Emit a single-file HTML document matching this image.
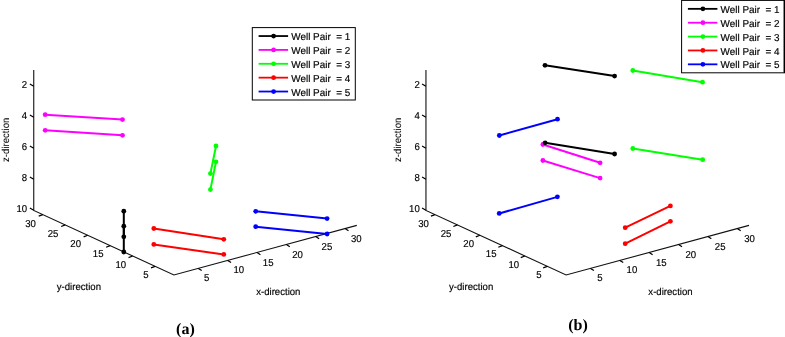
<!DOCTYPE html>
<html><head><meta charset="utf-8"><title>Well pairs</title>
<style>
html,body{margin:0;padding:0;background:#fff;}
svg{display:block;}
text{font-family:"Liberation Sans",sans-serif;font-size:10px;text-rendering:geometricPrecision;fill:#000;stroke:#000;stroke-width:0.16px;}
.rt{stroke-width:0.05px;}
.ax{fill:none;stroke:#111;stroke-width:1.1;}
.tk{fill:none;stroke:#000;stroke-width:1.2;}
.ln{fill:none;stroke-width:2;}
.cap{font-family:"Liberation Serif",serif;font-weight:bold;font-size:16px;fill:#000;stroke:none;}
</style></head><body>
<svg width="785" height="337" viewBox="0 0 785 337">
<rect width="785" height="337" fill="#fff"/>
<path class="ax" d="M33.75 70V210.4L173.9 275L356.8 225.4"/>
<path class="tk" d="M33.75 86.3l-3.9 -2.2M33.75 117.28l-3.9 -2.2M33.75 148.26l-3.9 -2.2M33.75 179.24l-3.9 -2.2M33.75 210.22l-3.9 -2.2M42.8 214.57l-4.1 1.6M65.26 224.92l-4.1 1.6M87.72 235.28l-4.1 1.6M110.18 245.63l-4.1 1.6M132.64 255.98l-4.1 1.6M155.1 266.33l-4.1 1.6M198.3 268.38l3.4 2.2M227.66 260.42l3.4 2.2M257.02 252.46l3.4 2.2M286.38 244.5l3.4 2.2M315.74 236.53l3.4 2.2M345.1 228.57l3.4 2.2"/>
<text transform="translate(27.15 87.65) scale(0.96 1)" text-anchor="end" xml:space="preserve">2</text>
<text transform="translate(27.15 118.63) scale(0.96 1)" text-anchor="end" xml:space="preserve">4</text>
<text transform="translate(27.15 149.61) scale(0.96 1)" text-anchor="end" xml:space="preserve">6</text>
<text transform="translate(27.15 180.59) scale(0.96 1)" text-anchor="end" xml:space="preserve">8</text>
<text transform="translate(27.15 211.57) scale(0.96 1)" text-anchor="end" xml:space="preserve">10</text>
<text transform="translate(35.9 226.65) scale(0.96 1)" text-anchor="end" xml:space="preserve">30</text>
<text transform="translate(58.44 236.87) scale(0.96 1)" text-anchor="end" xml:space="preserve">25</text>
<text transform="translate(80.98 247.09) scale(0.96 1)" text-anchor="end" xml:space="preserve">20</text>
<text transform="translate(103.52 257.31) scale(0.96 1)" text-anchor="end" xml:space="preserve">15</text>
<text transform="translate(126.06 267.53) scale(0.96 1)" text-anchor="end" xml:space="preserve">10</text>
<text transform="translate(148.6 277.75) scale(0.96 1)" text-anchor="end" xml:space="preserve">5</text>
<text transform="translate(204 281) scale(0.96 1)" xml:space="preserve">5</text>
<text transform="translate(233.4 273.25) scale(0.96 1)" xml:space="preserve">10</text>
<text transform="translate(262.8 265.5) scale(0.96 1)" xml:space="preserve">15</text>
<text transform="translate(292.2 257.75) scale(0.96 1)" xml:space="preserve">20</text>
<text transform="translate(321.6 249.5) scale(0.96 1)" xml:space="preserve">25</text>
<text transform="translate(351 242.25) scale(0.96 1)" xml:space="preserve">30</text>
<text transform="translate(78.9 290.3) scale(0.96 1)" text-anchor="middle" xml:space="preserve">y-direction</text>
<text transform="translate(278.3 294.6) scale(0.96 1)" text-anchor="middle" xml:space="preserve">x-direction</text>
<text transform="translate(8.6 139.8) rotate(-90) scale(0.96 1)" text-anchor="middle" class="rt" xml:space="preserve">z-direction</text>
<path d="M45.2 114.7L122.5 119.6" stroke="#f0f" class="ln"/><circle cx="45.2" cy="114.7" r="2.4" fill="#f0f"/><circle cx="122.5" cy="119.6" r="2.4" fill="#f0f"/>
<path d="M45.2 130.3L122.5 135.3" stroke="#f0f" class="ln"/><circle cx="45.2" cy="130.3" r="2.4" fill="#f0f"/><circle cx="122.5" cy="135.3" r="2.4" fill="#f0f"/>
<path d="M216 146L210.4 173.6" stroke="#0f0" class="ln"/><circle cx="216" cy="146" r="2.4" fill="#0f0"/><circle cx="210.4" cy="173.6" r="2.4" fill="#0f0"/>
<path d="M216 161.8L210.4 189.6" stroke="#0f0" class="ln"/><circle cx="216" cy="161.8" r="2.4" fill="#0f0"/><circle cx="210.4" cy="189.6" r="2.4" fill="#0f0"/>
<path d="M123.8 211.2L123.8 236.8" stroke="#000" class="ln"/><circle cx="123.8" cy="211.2" r="2.4" fill="#000"/><circle cx="123.8" cy="236.8" r="2.4" fill="#000"/>
<path d="M123.8 226.2L123.8 252" stroke="#000" class="ln"/><circle cx="123.8" cy="226.2" r="2.4" fill="#000"/><circle cx="123.8" cy="252" r="2.4" fill="#000"/>
<path d="M153.8 228.5L223.8 239.3" stroke="#f00" class="ln"/><circle cx="153.8" cy="228.5" r="2.4" fill="#f00"/><circle cx="223.8" cy="239.3" r="2.4" fill="#f00"/>
<path d="M153.8 244.4L223.8 254.4" stroke="#f00" class="ln"/><circle cx="153.8" cy="244.4" r="2.4" fill="#f00"/><circle cx="223.8" cy="254.4" r="2.4" fill="#f00"/>
<path d="M255.7 211.3L327.1 218.6" stroke="#00f" class="ln"/><circle cx="255.7" cy="211.3" r="2.4" fill="#00f"/><circle cx="327.1" cy="218.6" r="2.4" fill="#00f"/>
<path d="M255.7 226.7L327.1 234" stroke="#00f" class="ln"/><circle cx="255.7" cy="226.7" r="2.4" fill="#00f"/><circle cx="327.1" cy="234" r="2.4" fill="#00f"/>
<rect x="252.3" y="27.6" width="103" height="72.4" fill="#fff" stroke="#000" stroke-width="1"/>
<path d="M258.6 36.05h29.5" stroke="#000" class="ln" style="stroke-width:1.8"/><circle cx="273.6" cy="36.05" r="2.4" fill="#000"/>
<text transform="translate(291.3 40.15) scale(0.99 1)" xml:space="preserve">Well Pair  = 1</text>
<path d="M258.6 49.92h29.5" stroke="#f0f" class="ln" style="stroke-width:1.8"/><circle cx="273.6" cy="49.92" r="2.4" fill="#f0f"/>
<text transform="translate(291.3 54.02) scale(0.99 1)" xml:space="preserve">Well Pair  = 2</text>
<path d="M258.6 63.79h29.5" stroke="#0f0" class="ln" style="stroke-width:1.8"/><circle cx="273.6" cy="63.79" r="2.4" fill="#0f0"/>
<text transform="translate(291.3 67.89) scale(0.99 1)" xml:space="preserve">Well Pair  = 3</text>
<path d="M258.6 77.66h29.5" stroke="#f00" class="ln" style="stroke-width:1.8"/><circle cx="273.6" cy="77.66" r="2.4" fill="#f00"/>
<text transform="translate(291.3 81.76) scale(0.99 1)" xml:space="preserve">Well Pair  = 4</text>
<path d="M258.6 91.53h29.5" stroke="#00f" class="ln" style="stroke-width:1.8"/><circle cx="273.6" cy="91.53" r="2.4" fill="#00f"/>
<text transform="translate(291.3 95.63) scale(0.99 1)" xml:space="preserve">Well Pair  = 5</text>
<text class="cap" x="185.4" y="333.6" text-anchor="middle">(a)</text>
<path class="ax" d="M425.95 70V210.4L566.1 275L749 225.4"/>
<path class="tk" d="M425.95 86.3l-3.9 -2.2M425.95 117.28l-3.9 -2.2M425.95 148.26l-3.9 -2.2M425.95 179.24l-3.9 -2.2M425.95 210.22l-3.9 -2.2M435 214.57l-4.1 1.6M457.46 224.92l-4.1 1.6M479.92 235.28l-4.1 1.6M502.38 245.63l-4.1 1.6M524.84 255.98l-4.1 1.6M547.3 266.33l-4.1 1.6M590.5 268.38l3.4 2.2M619.86 260.42l3.4 2.2M649.22 252.46l3.4 2.2M678.58 244.5l3.4 2.2M707.94 236.53l3.4 2.2M737.3 228.57l3.4 2.2"/>
<text transform="translate(419.75 87.65) scale(0.96 1)" text-anchor="end" xml:space="preserve">2</text>
<text transform="translate(419.75 118.63) scale(0.96 1)" text-anchor="end" xml:space="preserve">4</text>
<text transform="translate(419.75 149.61) scale(0.96 1)" text-anchor="end" xml:space="preserve">6</text>
<text transform="translate(419.75 180.59) scale(0.96 1)" text-anchor="end" xml:space="preserve">8</text>
<text transform="translate(419.75 211.57) scale(0.96 1)" text-anchor="end" xml:space="preserve">10</text>
<text transform="translate(428.9 226.65) scale(0.96 1)" text-anchor="end" xml:space="preserve">30</text>
<text transform="translate(451.44 236.87) scale(0.96 1)" text-anchor="end" xml:space="preserve">25</text>
<text transform="translate(473.98 247.09) scale(0.96 1)" text-anchor="end" xml:space="preserve">20</text>
<text transform="translate(496.52 257.31) scale(0.96 1)" text-anchor="end" xml:space="preserve">15</text>
<text transform="translate(519.06 267.53) scale(0.96 1)" text-anchor="end" xml:space="preserve">10</text>
<text transform="translate(541.6 277.75) scale(0.96 1)" text-anchor="end" xml:space="preserve">5</text>
<text transform="translate(597.2 281) scale(0.96 1)" xml:space="preserve">5</text>
<text transform="translate(626.6 273.25) scale(0.96 1)" xml:space="preserve">10</text>
<text transform="translate(656 265.5) scale(0.96 1)" xml:space="preserve">15</text>
<text transform="translate(685.4 257.75) scale(0.96 1)" xml:space="preserve">20</text>
<text transform="translate(714.8 249.5) scale(0.96 1)" xml:space="preserve">25</text>
<text transform="translate(744.2 242.25) scale(0.96 1)" xml:space="preserve">30</text>
<text transform="translate(471.1 290.3) scale(0.96 1)" text-anchor="middle" xml:space="preserve">y-direction</text>
<text transform="translate(670.5 294.6) scale(0.96 1)" text-anchor="middle" xml:space="preserve">x-direction</text>
<text transform="translate(400.8 139.8) rotate(-90) scale(0.96 1)" text-anchor="middle" class="rt" xml:space="preserve">z-direction</text>
<path d="M542.9 144.5L600.1 162.8" stroke="#f0f" class="ln"/><circle cx="542.9" cy="144.5" r="2.4" fill="#f0f"/><circle cx="600.1" cy="162.8" r="2.4" fill="#f0f"/>
<path d="M542.9 160.5L600.1 178.1" stroke="#f0f" class="ln"/><circle cx="542.9" cy="160.5" r="2.4" fill="#f0f"/><circle cx="600.1" cy="178.1" r="2.4" fill="#f0f"/>
<path d="M545 65.3L614.6 76.1" stroke="#000" class="ln"/><circle cx="545" cy="65.3" r="2.4" fill="#000"/><circle cx="614.6" cy="76.1" r="2.4" fill="#000"/>
<path d="M545.1 142.8L614.6 154" stroke="#000" class="ln"/><circle cx="545.1" cy="142.8" r="2.4" fill="#000"/><circle cx="614.6" cy="154" r="2.4" fill="#000"/>
<path d="M632.8 70.5L702.5 82.2" stroke="#0f0" class="ln"/><circle cx="632.8" cy="70.5" r="2.4" fill="#0f0"/><circle cx="702.5" cy="82.2" r="2.4" fill="#0f0"/>
<path d="M632.8 148.5L702.7 159.7" stroke="#0f0" class="ln"/><circle cx="632.8" cy="148.5" r="2.4" fill="#0f0"/><circle cx="702.7" cy="159.7" r="2.4" fill="#0f0"/>
<path d="M625.2 227.65L670.4 205.95" stroke="#f00" class="ln"/><circle cx="625.2" cy="227.65" r="2.4" fill="#f00"/><circle cx="670.4" cy="205.95" r="2.4" fill="#f00"/>
<path d="M625.2 243.7L670.4 221.3" stroke="#f00" class="ln"/><circle cx="625.2" cy="243.7" r="2.4" fill="#f00"/><circle cx="670.4" cy="221.3" r="2.4" fill="#f00"/>
<path d="M499.3 135.5L557.5 119.2" stroke="#00f" class="ln"/><circle cx="499.3" cy="135.5" r="2.4" fill="#00f"/><circle cx="557.5" cy="119.2" r="2.4" fill="#00f"/>
<path d="M499.2 213.45L557.4 196.85" stroke="#00f" class="ln"/><circle cx="499.2" cy="213.45" r="2.4" fill="#00f"/><circle cx="557.4" cy="196.85" r="2.4" fill="#00f"/>
<rect x="681.6" y="0.4" width="103" height="72.4" fill="#fff" stroke="#000" stroke-width="1"/>
<path d="M687.9 8.85h29.5" stroke="#000" class="ln" style="stroke-width:1.8"/><circle cx="702.9" cy="8.85" r="2.4" fill="#000"/>
<text transform="translate(720.6 12.95) scale(0.99 1)" xml:space="preserve">Well Pair  = 1</text>
<path d="M687.9 22.72h29.5" stroke="#f0f" class="ln" style="stroke-width:1.8"/><circle cx="702.9" cy="22.72" r="2.4" fill="#f0f"/>
<text transform="translate(720.6 26.82) scale(0.99 1)" xml:space="preserve">Well Pair  = 2</text>
<path d="M687.9 36.59h29.5" stroke="#0f0" class="ln" style="stroke-width:1.8"/><circle cx="702.9" cy="36.59" r="2.4" fill="#0f0"/>
<text transform="translate(720.6 40.69) scale(0.99 1)" xml:space="preserve">Well Pair  = 3</text>
<path d="M687.9 50.46h29.5" stroke="#f00" class="ln" style="stroke-width:1.8"/><circle cx="702.9" cy="50.46" r="2.4" fill="#f00"/>
<text transform="translate(720.6 54.56) scale(0.99 1)" xml:space="preserve">Well Pair  = 4</text>
<path d="M687.9 64.33h29.5" stroke="#00f" class="ln" style="stroke-width:1.8"/><circle cx="702.9" cy="64.33" r="2.4" fill="#00f"/>
<text transform="translate(720.6 68.43) scale(0.99 1)" xml:space="preserve">Well Pair  = 5</text>
<path d="M784.3 0v72.8" stroke="#000" stroke-width="1.5"/>
<text class="cap" x="578" y="329.9" text-anchor="middle">(b)</text>
</svg>
</body></html>
